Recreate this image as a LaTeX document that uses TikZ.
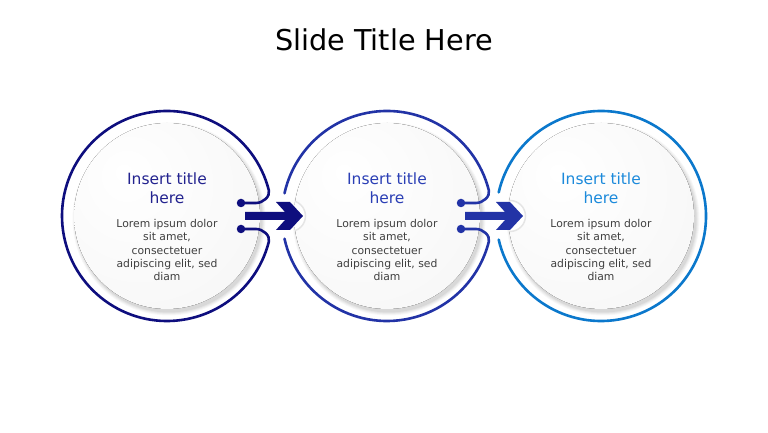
\documentclass[tikz,border=0pt]{standalone}
\usepackage{fontspec}
\setmainfont{DejaVu Sans}
\definecolor{ringA}{HTML}{0E0E7E}
\definecolor{ringB}{HTML}{2233A6}
\definecolor{ringC}{HTML}{0B78CC}
\definecolor{titA}{HTML}{23238F}
\definecolor{titB}{HTML}{2B3FB5}
\definecolor{titC}{HTML}{1C8ADB}
\definecolor{bodyc}{HTML}{404040}
\pgfdeclareradialshading{discshade}{\pgfpoint{-12bp}{12bp}}{color(0bp)=(white); color(35bp)=(white!97!black); color(55bp)=(white!94!black); color(66bp)=(white!90!black)}
\tikzset{
  ringline/.style={line width=2.6pt, line cap=round},
  disc/.style={shading=discshade},
  ctitle/.style={font=\fontsize{15.5}{19}\selectfont, align=center, inner sep=0pt},
  cbody/.style={font=\fontsize{10.8}{13.2}\selectfont, align=center, inner sep=0pt, text=bodyc},
  dotc/.style={circle, fill, inner sep=0pt, minimum size=8.5pt},
}
\newcommand{\arrowshape}[2]{% #1 x offset, #2 color
  \fill[#2] (245+#1,221) -- (285+#1,221) -- (276+#1,231) -- (290+#1,231) -- (303+#1,217)
    -- (290+#1,203) -- (276+#1,203) -- (285+#1,213) -- (245+#1,213) -- cycle;}
\begin{document}
\begin{tikzpicture}[x=1pt,y=1pt]
\useasboundingbox (0,0) rectangle (768,433);
\fill[white] (0,0) rectangle (768,433);
\node (title) at (384,393) {\fontsize{28.7}{32}\selectfont Slide Title Here};
% shadows and discs
\foreach \cx in {167,387,601}{
  \foreach \r/\o in {96.5/0.03,95.5/0.035,94.5/0.04,93.5/0.05}{
    \fill[black, opacity=\o] (\cx+2,214) circle[radius=\r pt];
  }
  \fill[disc] (\cx,217) circle[radius=93pt];
}
% notches
\begin{scope}
  \clip (387,217) circle[radius=93pt];
  \fill[white] (290,217) circle[radius=15pt];
  \draw[black!10, line width=1.5pt] (290,217) circle[radius=15.5pt];
\end{scope}
\begin{scope}
  \clip (601,217) circle[radius=93pt];
  \fill[white] (510,217) circle[radius=15pt];
  \draw[black!10, line width=1.5pt] (510,217) circle[radius=15.5pt];
\end{scope}
% ring 1
\node[dotc, ringA] (d1t) at (241,230) {};
\node[dotc, ringA] (d1b) at (241,204) {};
\draw[ringline, ringA] (d1t.center) -- (256,230) .. controls (263,230) and (270.3,236.6) .. (268.9,242.4)
  arc[start angle=14, end angle=346, radius=105pt]
  .. controls (270.3,197.4) and (263,204) .. (256,204) -- (d1b.center);
% ring 2
\node[dotc, ringB] (d2t) at (461,230) {};
\node[dotc, ringB] (d2b) at (461,204) {};
\draw[ringline, ringB] (d2t.center) -- (476,230) .. controls (483,230) and (490.3,236.6) .. (488.9,242.4)
  arc[start angle=14, end angle=167.5, radius=105pt];
\draw[ringline, ringB] (387,217) ++(192.5:105pt)
  arc[start angle=192.5, end angle=346, radius=105pt]
  .. controls (490.3,197.4) and (483,204) .. (476,204) -- (d2b.center);
% ring 3
\draw[ringline, ringC] (601,217) ++(-167:105pt) arc[start angle=-167, end angle=167, radius=105pt];
% arrows
\arrowshape{0}{ringA}
\arrowshape{220}{ringB}
% texts
\node[ctitle, text=titA] (t1) at (167,245) {Insert title\\here};
\node[ctitle, text=titB] (t2) at (387,245) {Insert title\\here};
\node[ctitle, text=titC] (t3) at (601,245) {Insert title\\here};
\node[cbody] (b1) at (167,183) {Lorem ipsum dolor\\sit amet,\\consectetuer\\adipiscing elit, sed\\diam};
\node[cbody] (b2) at (387,183) {Lorem ipsum dolor\\sit amet,\\consectetuer\\adipiscing elit, sed\\diam};
\node[cbody] (b3) at (601,183) {Lorem ipsum dolor\\sit amet,\\consectetuer\\adipiscing elit, sed\\diam};
\end{tikzpicture}
\end{document}
